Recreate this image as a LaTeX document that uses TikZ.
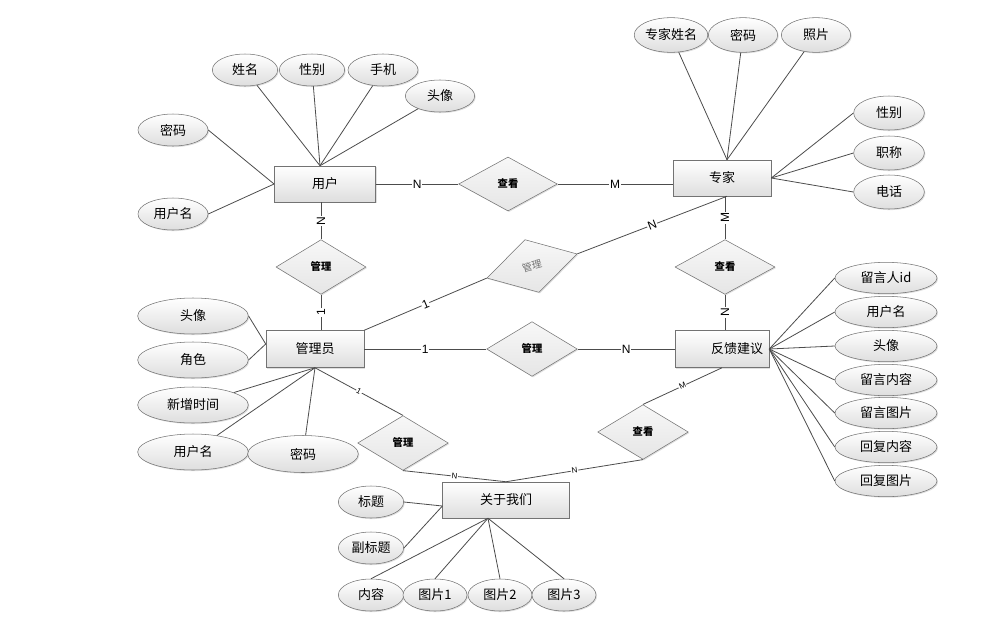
\documentclass[tikz,border=0pt]{standalone}
\usepackage{fontspec}
\setmainfont{Noto Sans CJK SC}
\newfontfamily\lblfont{Liberation Sans}
\usetikzlibrary{shapes.geometric,shadows}

\begin{document}
\begin{tikzpicture}[
    x=0.75pt, y=-0.75pt,
    base/.style={draw=black!55, top color=white, bottom color=black!13, drop shadow={shadow xshift=0.8pt, shadow yshift=-0.8pt, opacity=0.25}},
    entity/.style={base, rectangle, minimum width=73.5pt, minimum height=27pt, font=\fontsize{9.75}{11}\selectfont},
    attr/.style={base, ellipse, inner sep=0pt, minimum width=49pt, minimum height=24pt, font=\fontsize{9.75}{11}\selectfont},
    wideattr/.style={attr, minimum width=83pt, minimum height=27pt},
    fbattr/.style={attr, minimum width=76.5pt, minimum height=23.5pt},
    relation/.style={base, diamond, inner sep=0pt, minimum width=68pt, minimum height=41pt, top color=black!3, bottom color=black!10, font=\bfseries\fontsize{7.75}{8}\selectfont},
    link/.style={draw=black!70, line width=0.6pt},
    card/.style={fill=white, inner sep=0.6pt, font=\lblfont\fontsize{9}{9}\selectfont},
    smallcard/.style={card, font=\lblfont\fontsize{6}{7}\selectfont}
]
\useasboundingbox (0,0) rectangle (1007,622);

% Entities
\node[entity, minimum width=76pt] (user) at (325,184) {用户};
\node[entity] (expert) at (722,178) {专家};
\node[entity, minimum height=27.75pt] (admin) at (315,349) {管理员};
\node[entity, minimum width=70.5pt, minimum height=27.75pt, text width=61.5pt, align=right, inner xsep=4.5pt] (feedback) at (722,349) {反馈建议};
\node[entity, minimum width=95pt] (about) at (506,500) {关于我们};

% Relations
\node[relation, minimum width=74pt, minimum height=40.5pt] (view1) at (508,184) {查看};
\node[relation, minimum width=67.5pt] (manage1) at (321,267) {管理};
\node[relation, minimum width=70pt, rotate=15, font=\fontsize{7.5}{8}\selectfont, text=black!55] (manage2) at (532,266) {管理};
\node[relation, minimum width=75pt] (view2) at (725,267) {查看};
\node[relation] (manage3) at (532,349) {管理};
\node[relation] (manage4) at (403,443) {管理};
\node[relation] (view3) at (643,432) {查看};

% User attributes
\node[attr] (userName) at (245,70) {姓名};
\node[attr] (userSex) at (312,70) {性别};
\node[attr, minimum width=52.5pt] (userPhone) at (383,70) {手机};
\node[attr, minimum width=52pt] (userAvatar) at (440,96) {头像};
\node[attr, minimum width=52.5pt] (userPwd) at (173,130) {密码};
\node[attr, minimum width=52.5pt] (userLogin) at (173,214) {用户名};

% Expert attributes
\node[attr, minimum width=52pt, minimum height=26pt] (expertName) at (671,35) {专家姓名};
\node[attr, minimum width=52pt, minimum height=26pt] (expertPwd) at (743,35) {密码};
\node[attr, minimum width=52pt, minimum height=26pt] (expertPhoto) at (816,35) {照片};
\node[attr, minimum width=53pt, minimum height=25.5pt] (expertSex) at (889,113) {性别};
\node[attr, minimum width=53pt, minimum height=25.5pt] (expertTitle) at (889,153) {职称};
\node[attr, minimum width=53pt, minimum height=25.5pt] (expertPhone) at (889,192) {电话};

% Admin attributes
\node[wideattr] (adminAvatar) at (193,316) {头像};
\node[wideattr] (adminRole) at (193,360) {角色};
\node[wideattr] (adminTime) at (193,405) {新增时间};
\node[wideattr] (adminLogin) at (193,452) {用户名};
\node[wideattr, minimum height=27.75pt] (adminPwd) at (303,454) {密码};

% About attributes
\node[attr] (aboutTitle) at (371,502) {标题};
\node[attr] (aboutSub) at (371,548) {副标题};
\node[attr] (aboutText) at (371,595) {内容};
\node[attr, minimum width=48pt] (aboutPic1) at (435,595) {图片1};
\node[attr, minimum width=48pt] (aboutPic2) at (500,595) {图片2};
\node[attr, minimum width=48pt] (aboutPic3) at (564,595) {图片3};

% Feedback attributes
\node[fbattr] (fbUser) at (886,278) {留言人id};
\node[fbattr] (fbLogin) at (886,312) {用户名};
\node[fbattr] (fbAvatar) at (886,346) {头像};
\node[fbattr] (fbText) at (886,380) {留言内容};
\node[fbattr] (fbPic) at (886,413) {留言图片};
\node[fbattr] (fbReply) at (886,447) {回复内容};
\node[fbattr] (fbReplyPic) at (886,481) {回复图片};

\coordinate (userTop) at ([xshift=-3.75pt]user.north);
\coordinate (expertTop) at ([xshift=3.75pt]expert.north);
\coordinate (adminLeft) at ([yshift=3.75pt]admin.west);
\coordinate (aboutLeft) at ([yshift=-4.5pt]about.west);
\coordinate (aboutBottom) at ([xshift=-13.5pt]about.south);

% Attribute links
\draw[link] (userName) -- (userTop);
\draw[link] (userSex) -- (userTop);
\draw[link] (userPhone) -- (userTop);
\draw[link] (userAvatar) -- (userTop);
\draw[link] (userPwd.east) -- (user.west);
\draw[link] (userLogin.east) -- (user.west);

\draw[link] (expertName) -- (expertTop);
\draw[link] (expertPwd) -- (expertTop);
\draw[link] (expertPhoto) -- (expertTop);
\draw[link] (expertSex.west) -- (expert.east);
\draw[link] (expertTitle.west) -- (expert.east);
\draw[link] (expertPhone.west) -- (expert.east);

\draw[link] (adminAvatar.east) -- (adminLeft);
\draw[link] (adminRole.east) -- (adminLeft);
\draw[link] (adminTime) -- (admin.south);
\draw[link] (adminLogin) -- (admin.south);
\draw[link] (adminPwd) -- (admin.south);

\draw[link] (aboutTitle.east) -- (aboutLeft);
\draw[link] (aboutSub.east) -- (aboutLeft);
\draw[link] (aboutText.north) -- (aboutBottom);
\draw[link] (aboutPic1.north) -- (aboutBottom);
\draw[link] (aboutPic2.north) -- (aboutBottom);
\draw[link] (aboutPic3.north) -- (aboutBottom);

\draw[link] (fbUser.west) -- (feedback.east);
\draw[link] (fbLogin.west) -- (feedback.east);
\draw[link] (fbAvatar.west) -- (feedback.east);
\draw[link] (fbText.west) -- (feedback.east);
\draw[link] (fbPic.west) -- (feedback.east);
\draw[link] (fbReply.west) -- (feedback.east);
\draw[link] (fbReplyPic.west) -- (feedback.east);

% Relation links
\draw[link] (user) -- node[card] {N} (view1);
\draw[link] (view1.east) -- node[card] {M} (view1.east -| expert.west);
\draw[link] (manage1.north |- user.south) -- node[card, rotate=90] {N} (manage1.north);
\draw[link] (manage1.south) -- node[card, rotate=90] {1} (manage1.south |- admin.north);
\draw[link] (admin.north east) -- node[card, sloped] {1} (manage2.west);
\draw[link] (manage2.east) -- node[card, sloped] {N} (expertTop |- expert.south);
\draw[link] (view2.north |- expert.south) -- node[card, rotate=90] {M} (view2.north);
\draw[link] (view2.south) -- node[card, rotate=90] {N} (view2.south |- feedback.north);
\draw[link] (admin) -- node[card] {1} (manage3);
\draw[link] (manage3) -- node[card] {N} (feedback);
\draw[link] (admin.south) -- node[smallcard, sloped] {1} (manage4.north);
\draw[link] (manage4.south) -- node[smallcard, sloped] {N} (about.north);
\draw[link] (view3.south) -- node[smallcard, sloped] {N} (about.north);
\draw[link] (feedback.south) -- node[smallcard, sloped] {M} (view3.north);

\end{tikzpicture}
\end{document}
